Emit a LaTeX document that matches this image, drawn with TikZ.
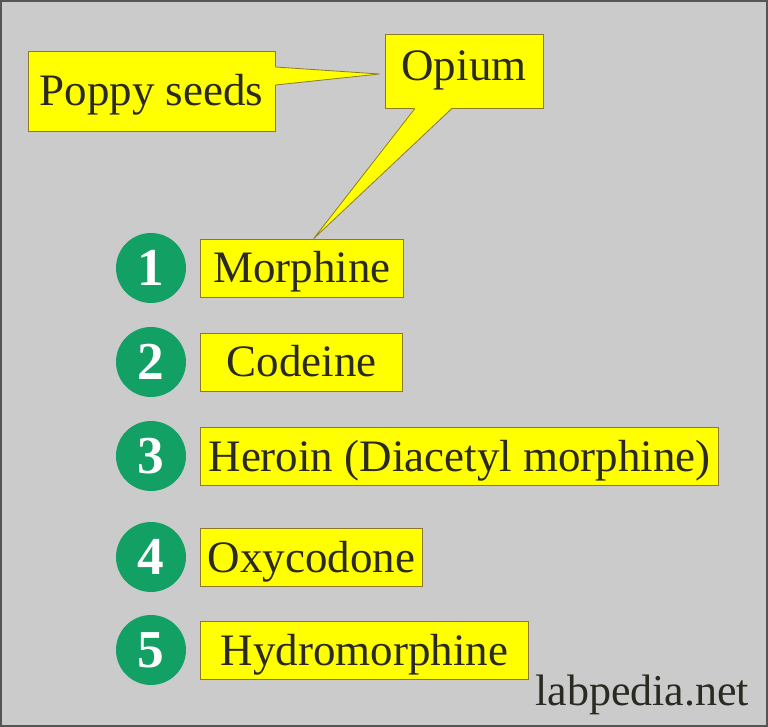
\documentclass[tikz,border=0pt]{standalone}
\usepackage{fontspec}
\setmainfont{Liberation Serif}
\usepackage{tikz}
\usetikzlibrary{positioning}
\usetikzlibrary{calc}
\usepackage{xcolor}

\definecolor{bggray}{HTML}{CBCBCB}
\definecolor{framegray}{HTML}{555555}
\definecolor{boxyellow}{HTML}{FFFF00}
\definecolor{boxedge}{HTML}{8C7A2A}
\definecolor{numgreen}{HTML}{12A064}
\definecolor{inkdark}{HTML}{2B2A22}

\tikzset{
    drugbox/.style={draw=boxedge, fill=boxyellow, line width=0.6pt, inner sep=0pt,
        text=inkdark, font=\fontsize{33.75}{36}\selectfont,
        text height=22.5pt, text depth=0pt, minimum height=43.5pt},
    numdot/.style={circle, fill=numgreen, text=white, inner sep=0pt, minimum size=52.5pt,
        font=\fontsize{40}{42}\selectfont\bfseries},
    tailedge/.style={draw=boxedge, line width=0.6pt}
}

\begin{document}
\begin{tikzpicture}[x=0.75pt, y=-0.75pt]
    % Background and frame
    \fill[bggray] (0,0) rectangle (768,727);
    \draw[framegray, line width=1.5pt] (1,1) rectangle (767,726);
    \useasboundingbox (0,0) rectangle (768,727);

    % Callout boxes
    \node (poppy) [drugbox, minimum width=185.25pt, minimum height=60pt] at (151.5,91) {Poppy seeds};
    \node (opium) [drugbox, minimum width=118.5pt, minimum height=55.5pt, text depth=7.5pt] at (464,71) {Opium};

    % Numbered circles
    \node (num1) [numdot] at (151,268) {1};
    \node (num2) [numdot] at (151,362) {2};
    \node (num3) [numdot] at (151,456) {3};
    \node (num4) [numdot] at (151,557) {4};
    \node (num5) [numdot] at (151,650) {5};

    % Drug names
    \node (drug1) [drugbox, right=10.5pt of num1, minimum width=152.25pt] {Morphine};
    \node (drug2) [drugbox, right=10.5pt of num2, minimum width=151.5pt] {Codeine};
    \node (drug3) [drugbox, right=10.5pt of num3, minimum width=388.5pt] {Heroin (Diacetyl morphine)};
    \node (drug4) [drugbox, right=10.5pt of num4, minimum width=166.5pt] {Oxycodone};
    \node (drug5) [drugbox, right=10.5pt of num5, minimum width=246pt] {Hydromorphine};

    % Callout tails
    \coordinate (poppytip) at ($(opium.west)+(-5,3)$);
    \coordinate (opiumtip) at ($(drug1.north)+(11.5,0)$);
    \fill[boxyellow] ($(poppy.east)+(-1,-24)$) -- (poppytip) -- ($(poppy.east)+(-1,-6)$) -- cycle;
    \draw[tailedge] ($(poppy.east)+(0,-24)$) -- (poppytip) -- ($(poppy.east)+(0,-6)$);
    \fill[boxyellow] ($(opium.south)+(-49,-1)$) -- (opiumtip) -- ($(opium.south)+(-12,-1)$) -- cycle;
    \draw[tailedge] ($(opium.south)+(-49,0)$) -- (opiumtip) -- ($(opium.south)+(-12,0)$);

    % Site name
    \node (site) [anchor=base west, inner sep=0pt, text=inkdark, font=\fontsize{33}{36}\selectfont] at (535,705) {labpedia.net};
\end{tikzpicture}
\end{document}
